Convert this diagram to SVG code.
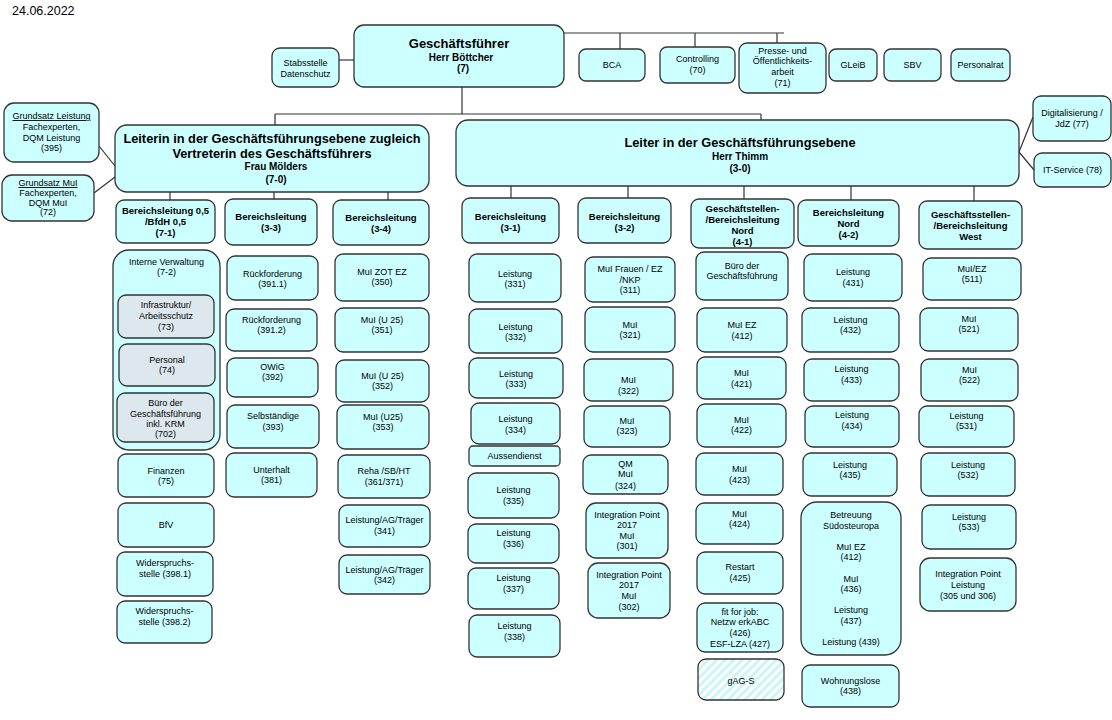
<svg xmlns="http://www.w3.org/2000/svg" width="1112" height="720" viewBox="0 0 1112 720">
<defs>
<pattern id="hatch" width="6" height="6" patternUnits="userSpaceOnUse" patternTransform="rotate(45)">
<rect width="6" height="6" fill="#ffffff"/>
<rect width="3" height="6" fill="#ccf5f8"/>
</pattern>
<style>
.b{fill:#ccffff;stroke:#333;stroke-width:1.3}
.g{fill:#dde8ee;stroke:#333;stroke-width:1.3}
.h{fill:url(#hatch);stroke:#333;stroke-width:1.3}
.c{fill:none;stroke:#333;stroke-width:1.2}
text{font-family:"Liberation Sans",Arial,sans-serif;fill:#000}
.t{font-size:9px;text-anchor:middle}
.tb{font-size:9.5px;font-weight:bold;text-anchor:middle}
.s{font-size:10px;font-weight:bold;text-anchor:middle}
.big{font-size:12.8px;font-weight:bold;text-anchor:middle}
.u{text-decoration:underline}
</style>
</defs>
<rect width="1112" height="720" fill="#ffffff"/>
<text x="12" y="15" font-size="12.5">24.06.2022</text>

<g id="connectors">
<path class="c" d="M339,60 H354"/>
<path class="c" d="M564,33 H784 M620,33 V49 M695,33 V47 M777,33 V43"/>
<path class="c" d="M462,87 V114 M275,114 H761 M275,114 V125 M761,114 V120"/>
<path class="c" d="M99,146 L115,166 M94,193 L115,177"/>
<path class="c" d="M170,192 V200 M274,192 V199 M388,192 V200"/>
<path class="c" d="M1019,152 L1033,117 M1019,152 L1034,170"/>
<path class="c" d="M511,186 V198 M628,186 V198 M744,186 V199 M851,186 V200 M974,186 V201"/>
</g>

<g id="stabsstelle"><rect class="b" x="272" y="48" width="67" height="39" rx="8"/><text class="t" x="305.5" y="66">Stabsstelle</text><text class="t" x="305.5" y="77">Datenschutz</text></g>
<g id="gf"><rect class="b" x="354" y="25" width="210" height="62" rx="10"/><text x="459" y="48" font-size="13px" font-weight="bold" text-anchor="middle">Geschäftsführer</text><text class="s" x="461" y="61">Herr Böttcher</text><text class="s" x="463" y="72">(7)</text></g>
<g id="bca"><rect class="b" x="579" y="49" width="66" height="32" rx="7"/><text class="t" x="612" y="68">BCA</text></g>
<g id="controlling"><rect class="b" x="660" y="47" width="75" height="36" rx="7"/><text class="t" x="697.5" y="62">Controlling</text><text class="t" x="697.5" y="73">(70)</text></g>
<g id="presse"><rect class="b" x="739" y="43" width="87" height="50" rx="8"/><text class="t" x="782.5" y="54">Presse- und</text><text class="t" x="782.5" y="64">Öffentlichkeits-</text><text class="t" x="782.5" y="75">arbeit</text><text class="t" x="782.5" y="86">(71)</text></g>
<g id="gleib"><rect class="b" x="829" y="49" width="48" height="32" rx="7"/><text class="t" x="853" y="68">GLeiB</text></g>
<g id="sbv"><rect class="b" x="884" y="49" width="57" height="32" rx="7"/><text class="t" x="912.5" y="68">SBV</text></g>
<g id="personalrat"><rect class="b" x="951" y="49" width="59" height="32" rx="7"/><text class="t" x="980.5" y="68">Personalrat</text></g>

<g id="grundsatz-leistung"><rect class="b" x="4" y="103" width="95" height="59" rx="10"/><text class="t u" x="51.5" y="119">Grundsatz Leistung</text><text class="t" x="51.5" y="130">Fachexperten,</text><text class="t" x="51.5" y="141">DQM  Leistung</text><text class="t" x="51.5" y="151">(395)</text></g>
<g id="grundsatz-mui"><rect class="b" x="2" y="175" width="92" height="46" rx="10"/><text class="t u" x="48" y="186">Grundsatz MuI</text><text class="t" x="48" y="196">Fachexperten,</text><text class="t" x="48" y="205.5">DQM MuI</text><text class="t" x="48" y="215">(72)</text></g>

<g id="leiterin"><rect class="b" x="115" y="125" width="314" height="67" rx="12"/><text class="big" x="272" y="143">Leiterin in der Geschäftsführungsebene zugleich</text><text class="big" x="272" y="158">Vertreterin des Geschäftsführers</text><text class="s" x="276" y="170">Frau Mölders</text><text class="s" x="276" y="183">(7-0)</text></g>
<g id="leiter"><rect class="b" x="456" y="120" width="563" height="66" rx="12"/><text class="big" x="740" y="147">Leiter in der Geschäftsführungsebene</text><text class="s" x="740" y="160">Herr Thimm</text><text class="s" x="740" y="172">(3-0)</text></g>
<g id="digital"><rect class="b" x="1033" y="96" width="78" height="45" rx="8"/><text class="t" x="1072" y="116">Digitalisierung /</text><text class="t" x="1072" y="127">JdZ (77)</text></g>
<g id="itservice"><rect class="b" x="1034" y="153" width="77" height="34" rx="8"/><text class="t" x="1072.5" y="173">IT-Service (78)</text></g>

<g id="bl71"><rect class="b" x="116" y="200" width="99" height="43" rx="8"/><text class="tb" x="165.5" y="214">Bereichsleitung 0,5</text><text class="tb" x="165.5" y="225">/BfdH 0,5</text><text class="tb" x="165.5" y="236">(7-1)</text></g>
<g id="bl33"><rect class="b" x="225" y="199" width="92" height="46" rx="8"/><text class="tb" x="271" y="220">Bereichsleitung</text><text class="tb" x="271" y="231">(3-3)</text></g>
<g id="bl34"><rect class="b" x="333" y="200" width="96" height="45" rx="8"/><text class="tb" x="381" y="221">Bereichsleitung</text><text class="tb" x="381" y="232">(3-4)</text></g>
<g id="bl31"><rect class="b" x="462" y="198" width="97" height="45" rx="8"/><text class="tb" x="510.5" y="220">Bereichsleitung</text><text class="tb" x="510.5" y="231">(3-1)</text></g>
<g id="bl32"><rect class="b" x="578" y="198" width="93" height="45" rx="8"/><text class="tb" x="624.5" y="220">Bereichsleitung</text><text class="tb" x="624.5" y="231">(3-2)</text></g>
<g id="bl41"><rect class="b" x="691" y="199" width="103" height="49" rx="8"/><text class="tb" x="742.5" y="212">Geschäftstellen-</text><text class="tb" x="742.5" y="223">/Bereichsleitung</text><text class="tb" x="742.5" y="234">Nord</text><text class="tb" x="742.5" y="245">(4-1)</text></g>
<g id="bl42"><rect class="b" x="798" y="200" width="101" height="46" rx="8"/><text class="tb" x="848.5" y="216">Bereichsleitung</text><text class="tb" x="848.5" y="227">Nord</text><text class="tb" x="848.5" y="238">(4-2)</text></g>
<g id="blwest"><rect class="b" x="919" y="201" width="103" height="48" rx="8"/><text class="tb" x="970.5" y="218">Geschäftsstellen-</text><text class="tb" x="970.5" y="229">/Bereichsleitung</text><text class="tb" x="970.5" y="240">West</text></g>

<g id="iv"><rect class="b" x="113" y="250" width="107" height="200" rx="16"/><text class="t" x="166.5" y="265">Interne Verwaltung</text><text class="t" x="166.5" y="275">(7-2)</text></g>
<g id="n73"><rect class="g" x="118" y="295" width="96" height="43" rx="8"/><text class="t" x="166" y="308">Infrastruktur/</text><text class="t" x="166" y="319">Arbeitsschutz</text><text class="t" x="166" y="330">(73)</text></g>
<g id="n74"><rect class="g" x="119" y="344" width="96" height="42" rx="8"/><text class="t" x="167" y="363">Personal</text><text class="t" x="167" y="373">(74)</text></g>
<g id="n702"><rect class="g" x="117" y="393" width="97" height="49" rx="8"/><text class="t" x="165.5" y="406">Büro der</text><text class="t" x="165.5" y="417">Geschäftsführung</text><text class="t" x="165.5" y="427">inkl. KRM</text><text class="t" x="165.5" y="437">(702)</text></g>
<g id="n75"><rect class="b" x="118" y="454" width="96" height="43" rx="8"/><text class="t" x="166" y="474">Finanzen</text><text class="t" x="166" y="484">(75)</text></g>
<g id="bfv"><rect class="b" x="118" y="503" width="96" height="44" rx="8"/><text class="t" x="166" y="528">BfV</text></g>
<g id="n3981"><rect class="b" x="117" y="552" width="96" height="44" rx="8"/><text class="t" x="165" y="566">Widerspruchs-</text><text class="t" x="165" y="577">stelle (398.1)</text></g>
<g id="n3982"><rect class="b" x="117" y="601" width="95" height="42" rx="8"/><text class="t" x="164.5" y="614">Widerspruchs-</text><text class="t" x="164.5" y="625">stelle (398.2)</text></g>

<g id="n3911"><rect class="b" x="227" y="256" width="91" height="44" rx="8"/><text class="t" x="272.5" y="277">Rückforderung</text><text class="t" x="272.5" y="287">(391.1)</text></g>
<g id="n3912"><rect class="b" x="226" y="309" width="91" height="42" rx="8"/><text class="t" x="271.5" y="323">Rückforderung</text><text class="t" x="271.5" y="333">(391.2)</text></g>
<g id="n392"><rect class="b" x="227" y="358" width="91" height="39" rx="8"/><text class="t" x="272.5" y="370">OWiG</text><text class="t" x="272.5" y="380">(392)</text></g>
<g id="n393"><rect class="b" x="227" y="405" width="92" height="43" rx="8"/><text class="t" x="273" y="419">Selbständige</text><text class="t" x="273" y="430">(393)</text></g>
<g id="n381"><rect class="b" x="226" y="453" width="91" height="44" rx="8"/><text class="t" x="271.5" y="473">Unterhalt</text><text class="t" x="271.5" y="483">(381)</text></g>

<g id="n350"><rect class="b" x="335" y="254" width="94" height="47" rx="8"/><text class="t" x="382" y="275">MuI ZOT EZ</text><text class="t" x="382" y="285">(350)</text></g>
<g id="n351"><rect class="b" x="335" y="308" width="94" height="44" rx="8"/><text class="t" x="382" y="323">MuI (U 25)</text><text class="t" x="382" y="333">(351)</text></g>
<g id="n352"><rect class="b" x="336" y="360" width="93" height="42" rx="8"/><text class="t" x="382.5" y="379">MuI (U 25)</text><text class="t" x="382.5" y="389">(352)</text></g>
<g id="n353"><rect class="b" x="337" y="405" width="92" height="44" rx="8"/><text class="t" x="383" y="420">MuI  (U25)</text><text class="t" x="383" y="430">(353)</text></g>
<g id="n361"><rect class="b" x="338" y="455" width="92" height="43" rx="8"/><text class="t" x="384" y="474">Reha /SB/HT</text><text class="t" x="384" y="485">(361/371)</text></g>
<g id="n341"><rect class="b" x="339" y="505" width="91" height="42" rx="8"/><text class="t" x="384.5" y="523">Leistung/AG/Träger</text><text class="t" x="384.5" y="534">(341)</text></g>
<g id="n342"><rect class="b" x="339" y="555" width="91" height="39" rx="8"/><text class="t" x="384.5" y="573">Leistung/AG/Träger</text><text class="t" x="384.5" y="583">(342)</text></g>

<g id="n331"><rect class="b" x="469" y="254" width="92" height="48" rx="8"/><text class="t" x="515" y="277">Leistung</text><text class="t" x="515" y="287">(331)</text></g>
<g id="n332"><rect class="b" x="469" y="309" width="93" height="44" rx="8"/><text class="t" x="515.5" y="330">Leistung</text><text class="t" x="515.5" y="340">(332)</text></g>
<g id="n333"><rect class="b" x="469" y="358" width="94" height="40" rx="8"/><text class="t" x="516" y="377">Leistung</text><text class="t" x="516" y="387">(333)</text></g>
<g id="n334"><rect class="b" x="471" y="403" width="89" height="41" rx="8"/><text class="t" x="515.5" y="422">Leistung</text><text class="t" x="515.5" y="433">(334)</text></g>
<g id="aussendienst"><rect class="b" x="469" y="446" width="91" height="20" rx="4"/><text class="t" x="514.5" y="459">Aussendienst</text></g>
<g id="n335"><rect class="b" x="468" y="473" width="91" height="45" rx="8"/><text class="t" x="513.5" y="493">Leistung</text><text class="t" x="513.5" y="504">(335)</text></g>
<g id="n336"><rect class="b" x="468" y="524" width="91" height="39" rx="8"/><text class="t" x="513.5" y="536">Leistung</text><text class="t" x="513.5" y="547">(336)</text></g>
<g id="n337"><rect class="b" x="468" y="568" width="91" height="41" rx="8"/><text class="t" x="513.5" y="581">Leistung</text><text class="t" x="513.5" y="592">(337)</text></g>
<g id="n338"><rect class="b" x="469" y="615" width="91" height="42" rx="8"/><text class="t" x="514.5" y="629">Leistung</text><text class="t" x="514.5" y="640">(338)</text></g>

<g id="n311"><rect class="b" x="585" y="257" width="90" height="45" rx="8"/><text class="t" x="630" y="272">MuI Frauen / EZ</text><text class="t" x="630" y="283">/NKP</text><text class="t" x="630" y="293">(311)</text></g>
<g id="n321"><rect class="b" x="585" y="307" width="90" height="45" rx="8"/><text class="t" x="630" y="328">MuI</text><text class="t" x="630" y="338">(321)</text></g>
<g id="n322"><rect class="b" x="584" y="359" width="89" height="42" rx="8"/><text class="t" x="628.5" y="383">MuI</text><text class="t" x="628.5" y="394">(322)</text></g>
<g id="n323"><rect class="b" x="584" y="406" width="86" height="41" rx="8"/><text class="t" x="627" y="424">MuI</text><text class="t" x="627" y="434">(323)</text></g>
<g id="n324"><rect class="b" x="583" y="455" width="85" height="39" rx="8"/><text class="t" x="625.5" y="467">QM</text><text class="t" x="625.5" y="477">MuI</text><text class="t" x="625.5" y="489">(324)</text></g>
<g id="n301"><rect class="b" x="586" y="503" width="82" height="55" rx="10"/><text class="t" x="627" y="518">Integration Point</text><text class="t" x="627" y="528">2017</text><text class="t" x="627" y="539">MuI</text><text class="t" x="627" y="549">(301)</text></g>
<g id="n302"><rect class="b" x="588" y="563" width="82" height="55" rx="10"/><text class="t" x="629" y="578">Integration Point</text><text class="t" x="629" y="588">2017</text><text class="t" x="629" y="599">MuI</text><text class="t" x="629" y="610">(302)</text></g>

<g id="buero41"><rect class="b" x="696" y="252" width="92" height="48" rx="8"/><text class="t" x="742" y="269">Büro der</text><text class="t" x="742" y="279">Geschäftsführung</text></g>
<g id="n412"><rect class="b" x="697" y="308" width="90" height="44" rx="8"/><text class="t" x="742" y="328">MuI EZ</text><text class="t" x="742" y="339">(412)</text></g>
<g id="n421"><rect class="b" x="697" y="357" width="89" height="42" rx="8"/><text class="t" x="741.5" y="376">MuI</text><text class="t" x="741.5" y="387">(421)</text></g>
<g id="n422"><rect class="b" x="697" y="404" width="89" height="43" rx="8"/><text class="t" x="741.5" y="423">MuI</text><text class="t" x="741.5" y="433">(422)</text></g>
<g id="n423"><rect class="b" x="696" y="453" width="87" height="42" rx="8"/><text class="t" x="739.5" y="472">MuI</text><text class="t" x="739.5" y="483">(423)</text></g>
<g id="n424"><rect class="b" x="696" y="503" width="87" height="41" rx="8"/><text class="t" x="739.5" y="517">MuI</text><text class="t" x="739.5" y="527">(424)</text></g>
<g id="n425"><rect class="b" x="697" y="552" width="86" height="42" rx="8"/><text class="t" x="740" y="570">Restart</text><text class="t" x="740" y="581">(425)</text></g>
<g id="n426"><rect class="b" x="697" y="603" width="86" height="49" rx="8"/><text class="t" x="740" y="615">fit for job:</text><text class="t" x="740" y="625">Netzw erkABC</text><text class="t" x="740" y="636">(426)</text><text class="t" x="740" y="647">ESF-LZA  (427)</text></g>
<g id="gags"><rect class="h" x="698" y="659" width="86" height="41" rx="8"/><text class="t" x="741" y="684">gAG-S</text></g>

<g id="n431"><rect class="b" x="804" y="254" width="98" height="47" rx="8"/><text class="t" x="853" y="275">Leistung</text><text class="t" x="853" y="286">(431)</text></g>
<g id="n432"><rect class="b" x="802" y="308" width="97" height="44" rx="8"/><text class="t" x="850.5" y="323">Leistung</text><text class="t" x="850.5" y="333">(432)</text></g>
<g id="n433"><rect class="b" x="804" y="359" width="95" height="42" rx="8"/><text class="t" x="851.5" y="372">Leistung</text><text class="t" x="851.5" y="383">(433)</text></g>
<g id="n434"><rect class="b" x="805" y="406" width="94" height="41" rx="8"/><text class="t" x="852" y="418">Leistung</text><text class="t" x="852" y="429">(434)</text></g>
<g id="n435"><rect class="b" x="803" y="453" width="94" height="43" rx="8"/><text class="t" x="850" y="468">Leistung</text><text class="t" x="850" y="478">(435)</text></g>
<g id="betreuung"><rect class="b" x="801" y="502" width="100" height="153" rx="16"/><text class="t" x="851" y="518">Betreuung</text><text class="t" x="851" y="529">Südosteuropa</text><text class="t" x="851" y="550">MuI EZ</text><text class="t" x="851" y="560">(412)</text><text class="t" x="851" y="582">MuI</text><text class="t" x="851" y="592">(436)</text><text class="t" x="851" y="613">Leistung</text><text class="t" x="851" y="624">(437)</text><text class="t" x="851" y="645">Leistung (439)</text></g>
<g id="n438"><rect class="b" x="802" y="665" width="97" height="42" rx="8"/><text class="t" x="850.5" y="684">Wohnungslose</text><text class="t" x="850.5" y="694">(438)</text></g>

<g id="n511"><rect class="b" x="923" y="258" width="98" height="42" rx="8"/><text class="t" x="972" y="272">MuI/EZ</text><text class="t" x="972" y="282">(511)</text></g>
<g id="n521"><rect class="b" x="920" y="308" width="98" height="43" rx="8"/><text class="t" x="969" y="322">MuI</text><text class="t" x="969" y="332">(521)</text></g>
<g id="n522"><rect class="b" x="921" y="359" width="97" height="42" rx="8"/><text class="t" x="969.5" y="373">MuI</text><text class="t" x="969.5" y="383">(522)</text></g>
<g id="n531"><rect class="b" x="919" y="406" width="95" height="41" rx="8"/><text class="t" x="966.5" y="419">Leistung</text><text class="t" x="966.5" y="429">(531)</text></g>
<g id="n532"><rect class="b" x="921" y="453" width="94" height="43" rx="8"/><text class="t" x="968" y="468">Leistung</text><text class="t" x="968" y="478">(532)</text></g>
<g id="n533"><rect class="b" x="922" y="505" width="94" height="44" rx="8"/><text class="t" x="969" y="520">Leistung</text><text class="t" x="969" y="530">(533)</text></g>
<g id="n305"><rect class="b" x="920" y="558" width="96" height="53" rx="10"/><text class="t" x="968" y="577">Integration Point</text><text class="t" x="968" y="588">Leistung</text><text class="t" x="968" y="599">(305 und 306)</text></g>
</svg>
